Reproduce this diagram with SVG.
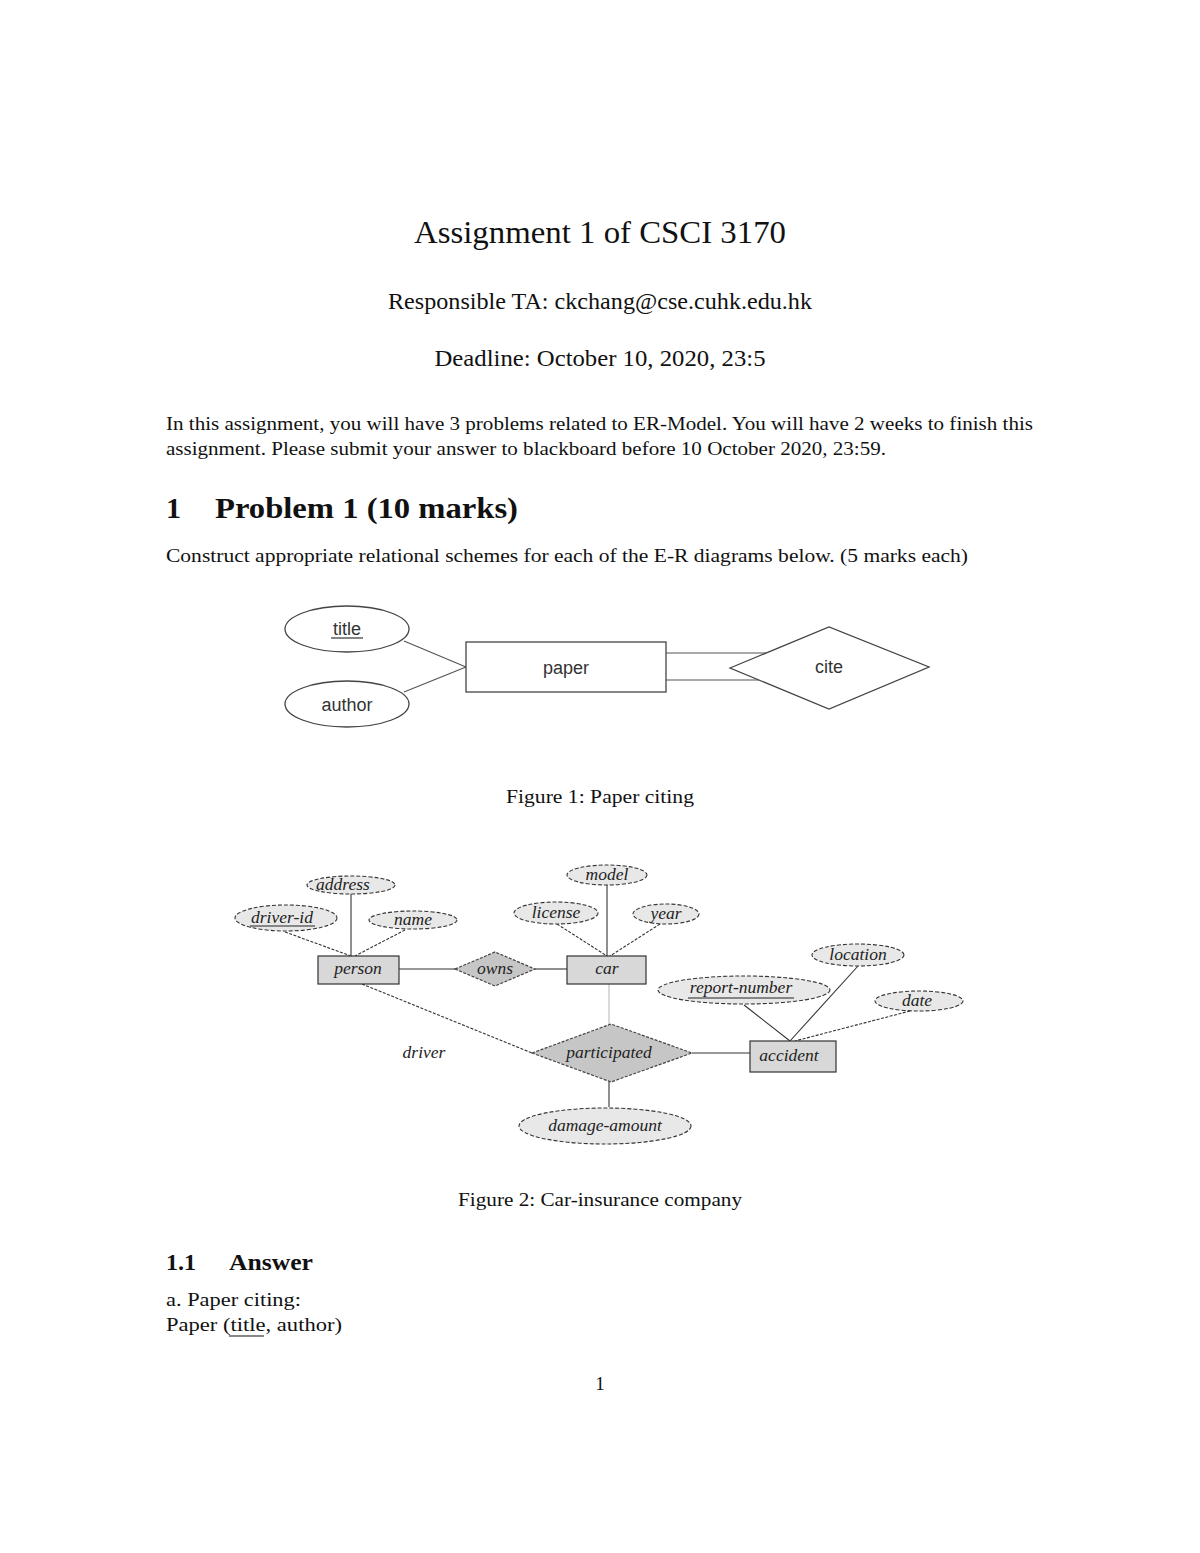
<svg xmlns="http://www.w3.org/2000/svg" width="1200" height="1553" viewBox="0 0 1200 1553">
<style>
.doc{font-family:"Liberation Serif","DejaVu Serif",serif;fill:#111}
.f1{font-family:"Liberation Sans","DejaVu Sans",sans-serif;font-size:18px;fill:#333;text-anchor:middle}
.f1s{fill:#fff;stroke:#444;stroke-width:1.3}
.f1l{stroke:#555;stroke-width:1.2;fill:none}
.f2t{font-family:"Liberation Serif","DejaVu Serif",serif;font-style:italic;font-size:17.5px;fill:#222;text-anchor:middle}
.ent{fill:#d8d8d8;stroke:#333;stroke-width:1.2}
.rel{fill:#c6c6c6;stroke:#444;stroke-width:1.2;stroke-dasharray:3 1.5}
.att{fill:#e8e8e8;stroke:#333;stroke-width:1.1;stroke-dasharray:4 2}
.ln{stroke:#333;stroke-width:1.1;fill:none}
.dl{stroke:#333;stroke-width:1.1;fill:none;stroke-dasharray:3 1.5}
</style>
<rect width="1200" height="1553" fill="#fff"/>

<g id="header" class="doc">
<text x="600" y="243" font-size="32" text-anchor="middle" textLength="372" lengthAdjust="spacingAndGlyphs">Assignment 1 of CSCI 3170</text>
<text x="600" y="309" font-size="22.5" text-anchor="middle" textLength="424" lengthAdjust="spacingAndGlyphs">Responsible TA: ckchang@cse.cuhk.edu.hk</text>
<text x="600" y="366" font-size="22.5" text-anchor="middle" textLength="331" lengthAdjust="spacingAndGlyphs">Deadline: October 10, 2020, 23:5</text>
<text x="166" y="430" font-size="19.5" textLength="867" lengthAdjust="spacingAndGlyphs">In this assignment, you will have 3 problems related to ER-Model. You will have 2 weeks to finish this</text>
<text x="166" y="455" font-size="19.5" textLength="720" lengthAdjust="spacingAndGlyphs">assignment. Please submit your answer to blackboard before 10 October 2020, 23:59.</text>
<text x="166" y="518" font-size="30" font-weight="bold">1</text>
<text x="215" y="518" font-size="30" font-weight="bold" textLength="303" lengthAdjust="spacingAndGlyphs">Problem 1 (10 marks)</text>
<text x="166" y="562" font-size="19.5" textLength="802" lengthAdjust="spacingAndGlyphs">Construct appropriate relational schemes for each of the E-R diagrams below. (5 marks each)</text>
</g>

<g id="fig1-connectors">
<line class="f1l" x1="404" y1="641" x2="466" y2="667"/>
<line class="f1l" x1="404" y1="692" x2="466" y2="667"/>
<line class="f1l" x1="666" y1="653" x2="766" y2="653"/>
<line class="f1l" x1="666" y1="680" x2="759" y2="680"/>
</g>
<g id="title">
<ellipse class="f1s" cx="347" cy="629" rx="62" ry="23"/>
<text class="f1" x="347" y="635">title</text>
<line x1="331" y1="638" x2="363" y2="638" stroke="#333" stroke-width="1.2"/>
</g>
<g id="author">
<ellipse class="f1s" cx="347" cy="704" rx="62" ry="23"/>
<text class="f1" x="347" y="711">author</text>
</g>
<g id="paper">
<rect class="f1s" x="466" y="642" width="200" height="50"/>
<text class="f1" x="566" y="674">paper</text>
</g>
<g id="cite">
<polygon class="f1s" points="730,668 829,627 929,667 829,709"/>
<text class="f1" x="829" y="673">cite</text>
</g>
<text class="doc" x="600" y="803" font-size="19.5" text-anchor="middle" textLength="188" lengthAdjust="spacingAndGlyphs">Figure 1: Paper citing</text>

<g id="fig2-connectors">
<line class="dl" x1="285" y1="932" x2="351" y2="956"/>
<line class="ln" x1="351" y1="894" x2="351" y2="956"/>
<line class="dl" x1="405" y1="930" x2="355" y2="956"/>
<line class="dl" x1="557" y1="924" x2="607" y2="956"/>
<line class="ln" x1="607" y1="885" x2="607" y2="956"/>
<line class="dl" x1="660" y1="924" x2="610" y2="956"/>
<line class="ln" x1="399" y1="969" x2="455" y2="969"/>
<line class="ln" x1="535" y1="969" x2="567" y2="969"/>
<line stroke="#bbb" stroke-width="1.1" x1="609" y1="984" x2="609" y2="1024"/>
<line class="dl" x1="362" y1="984" x2="532" y2="1053"/>
<line class="ln" x1="609" y1="1082" x2="609" y2="1107"/>
<line class="ln" x1="692" y1="1053" x2="750" y2="1053"/>
<line class="ln" x1="744" y1="1005" x2="790" y2="1041"/>
<line class="ln" x1="858" y1="966" x2="790" y2="1041"/>
<line class="dl" x1="910" y1="1011" x2="795" y2="1041"/>
</g>
<g id="address">
<ellipse class="att" cx="351" cy="885" rx="44" ry="9"/>
<text class="f2t" x="343" y="890">address</text>
</g>
<g id="driver-id">
<ellipse class="att" cx="286" cy="918" rx="51" ry="13"/>
<text class="f2t" x="282" y="923">driver-id</text>
<line x1="250" y1="926" x2="315" y2="926" stroke="#222" stroke-width="1"/>
</g>
<g id="name">
<ellipse class="att" cx="413" cy="920" rx="44" ry="9"/>
<text class="f2t" x="413" y="925">name</text>
</g>
<g id="person">
<rect class="ent" x="318" y="956" width="81" height="28"/>
<text class="f2t" x="358" y="974">person</text>
</g>
<g id="owns">
<polygon class="rel" points="455,969 495,952 535,969 495,986"/>
<text class="f2t" x="495" y="974">owns</text>
</g>
<g id="car">
<rect class="ent" x="567" y="956" width="79" height="28"/>
<text class="f2t" x="607" y="974">car</text>
</g>
<g id="model">
<ellipse class="att" cx="607" cy="875" rx="40" ry="10"/>
<text class="f2t" x="607" y="880">model</text>
</g>
<g id="license">
<ellipse class="att" cx="556" cy="913" rx="42" ry="11"/>
<text class="f2t" x="556" y="918">license</text>
</g>
<g id="year">
<ellipse class="att" cx="666" cy="914" rx="33" ry="10"/>
<text class="f2t" x="666" y="919">year</text>
</g>
<g id="location">
<ellipse class="att" cx="858" cy="955" rx="46" ry="11"/>
<text class="f2t" x="858" y="960">location</text>
</g>
<g id="report-number">
<ellipse class="att" cx="744" cy="990" rx="86" ry="14"/>
<text class="f2t" x="741" y="993">report-number</text>
<line x1="688" y1="998" x2="794" y2="998" stroke="#222" stroke-width="1"/>
</g>
<g id="date">
<ellipse class="att" cx="919" cy="1001" rx="44" ry="10"/>
<text class="f2t" x="917" y="1006">date</text>
</g>
<g id="participated">
<polygon class="rel" points="532,1053 611,1024 692,1053 611,1082"/>
<text class="f2t" x="609" y="1058">participated</text>
</g>
<g id="accident">
<rect class="ent" x="750" y="1041" width="86" height="31"/>
<text class="f2t" x="789" y="1061">accident</text>
</g>
<g id="damage-amount">
<ellipse class="att" cx="605" cy="1126" rx="86" ry="18"/>
<text class="f2t" x="605" y="1131">damage-amount</text>
</g>
<text class="f2t" x="424" y="1058">driver</text>
<text class="doc" x="600" y="1206" font-size="19.5" text-anchor="middle" textLength="284" lengthAdjust="spacingAndGlyphs">Figure 2: Car-insurance company</text>

<g id="answer" class="doc">
<text x="166" y="1270" font-size="24" font-weight="bold">1.1</text>
<text x="229" y="1270" font-size="24" font-weight="bold" textLength="84" lengthAdjust="spacingAndGlyphs">Answer</text>
<text x="166" y="1306" font-size="19.5" textLength="135" lengthAdjust="spacingAndGlyphs">a. Paper citing:</text>
<text x="166" y="1331" font-size="19.5" textLength="176" lengthAdjust="spacingAndGlyphs">Paper (title, author)</text>
<line x1="229" y1="1336" x2="264" y2="1336" stroke="#111" stroke-width="1.1"/>
<text x="600" y="1390" font-size="19" text-anchor="middle">1</text>
</g>
</svg>
